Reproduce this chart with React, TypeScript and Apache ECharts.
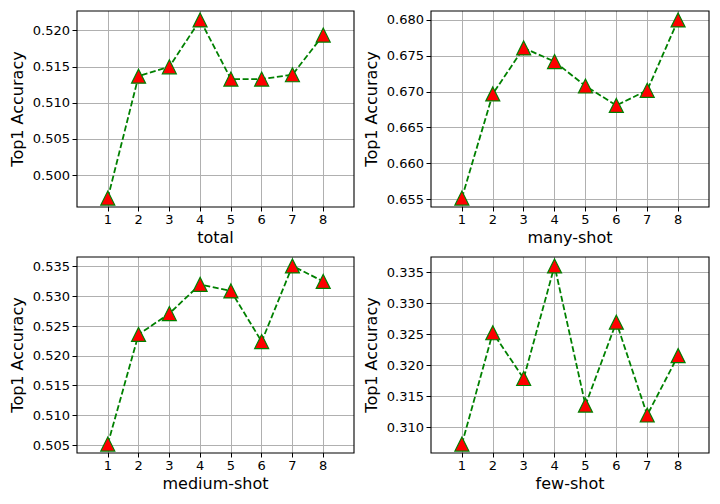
import React, { useEffect, useRef } from "react";
import * as echarts from "echarts";

const xValues = [1, 2, 3, 4, 5, 6, 7, 8];
const xTicks = [1, 2, 3, 4, 5, 6, 7, 8];

const panelNames = ["total", "many-shot", "medium-shot", "few-shot"];

const totalAcc = [0.4968, 0.5137, 0.515, 0.5215, 0.5133, 0.5133, 0.5139, 0.5194];
const manyShotAcc = [0.6552, 0.6697, 0.6761, 0.6742, 0.6708, 0.6681, 0.6702, 0.68];
const mediumShotAcc = [0.5052, 0.5236, 0.5271, 0.532, 0.5309, 0.5224, 0.5351, 0.5325];
const fewShotAcc = [0.3073, 0.3253, 0.3179, 0.3361, 0.3136, 0.327, 0.312, 0.3216];

const totalTicks = [0.5, 0.505, 0.51, 0.515, 0.52];
const manyShotTicks = [0.655, 0.66, 0.665, 0.67, 0.675, 0.68];
const mediumShotTicks = [0.505, 0.51, 0.515, 0.52, 0.525, 0.53, 0.535];
const fewShotTicks = [0.31, 0.315, 0.32, 0.325, 0.33, 0.335];

const FONT = "DejaVu Sans";

export default function App() {
  const ref = useRef<HTMLDivElement>(null);
  useEffect(() => {
    if (!ref.current) return;
    const chart = echarts.init(ref.current, undefined, { renderer: "svg" });
    const seriesData = [totalAcc, manyShotAcc, mediumShotAcc, fewShotAcc];
    const tickSets = [totalTicks, manyShotTicks, mediumShotTicks, fewShotTicks];
    const grids = [
      { left: 77, top: 11, width: 277, height: 196 },
      { left: 431, top: 11, width: 278, height: 196 },
      { left: 77, top: 257, width: 277, height: 196 },
      { left: 431, top: 257, width: 278, height: 196 },
    ];
    const xAxes: any[] = [];
    const yAxes: any[] = [];
    const series: any[] = [];
    const graphics: any[] = [];
    grids.forEach((g, i) => {
      const vals = seriesData[i];
      const lo = Math.min(...vals);
      const hi = Math.max(...vals);
      const r = hi - lo;
      xAxes.push({
        type: "value",
        gridIndex: i,
        min: 0,
        max: 9,
        interval: 1,
        name: panelNames[i],
        nameLocation: "middle",
        nameGap: 22,
        nameTextStyle: { fontFamily: FONT, fontSize: 16, color: "#000" },
        axisLine: { show: false },
        axisTick: {
          show: true,
          length: 4.5,
          customValues: xTicks,
          lineStyle: { color: "#000", width: 1 },
        },
        axisLabel: {
          show: true,
          customValues: xTicks,
          margin: 6,
          fontFamily: FONT,
          fontSize: 13,
          color: "#000",
          formatter: (v: number) => String(v),
        },
        splitLine: { show: true, lineStyle: { color: "#b0b0b0", width: 1 } },
      });
      yAxes.push({
        type: "value",
        gridIndex: i,
        min: lo - 0.05 * r,
        max: hi + 0.05 * r,
        name: "Top1 Accuracy",
        nameLocation: "middle",
        nameGap: 52,
        nameTextStyle: { fontFamily: FONT, fontSize: 16, color: "#000" },
        axisLine: { show: false },
        axisTick: {
          show: true,
          length: 4.5,
          customValues: tickSets[i],
          lineStyle: { color: "#000", width: 1 },
        },
        axisLabel: {
          show: true,
          customValues: tickSets[i],
          margin: 7,
          fontFamily: FONT,
          fontSize: 13,
          color: "#000",
          formatter: (v: number) => v.toFixed(3),
        },
        splitLine: { show: true, lineStyle: { color: "#b0b0b0", width: 1 } },
      });
      series.push({
        type: "line",
        xAxisIndex: i,
        yAxisIndex: i,
        data: xValues.map((x, k) => [x, vals[k]]),
        lineStyle: { color: "#008000", width: 1.8, type: [6, 2.6] },
        symbol: "triangle",
        symbolSize: 14,
        itemStyle: { color: "#ff0000", borderColor: "#008000", borderWidth: 1.2 },
        clip: false,
      });
      graphics.push({
        type: "rect",
        z: 100,
        shape: { x: g.left, y: g.top, width: g.width, height: g.height },
        style: { fill: "none", stroke: "#000", lineWidth: 1.1 },
        silent: true,
      });
    });
    chart.setOption({
      animation: false,
      backgroundColor: "#fff",
      grid: grids.map((g) => ({ ...g, containLabel: false })),
      xAxis: xAxes,
      yAxis: yAxes,
      series,
      graphic: graphics,
    });
    return () => chart.dispose();
  }, []);
  return (
    <div
      ref={ref}
      style={{ position: "absolute", left: 0, top: 0, width: 720, height: 504 }}
    />
  );
}
